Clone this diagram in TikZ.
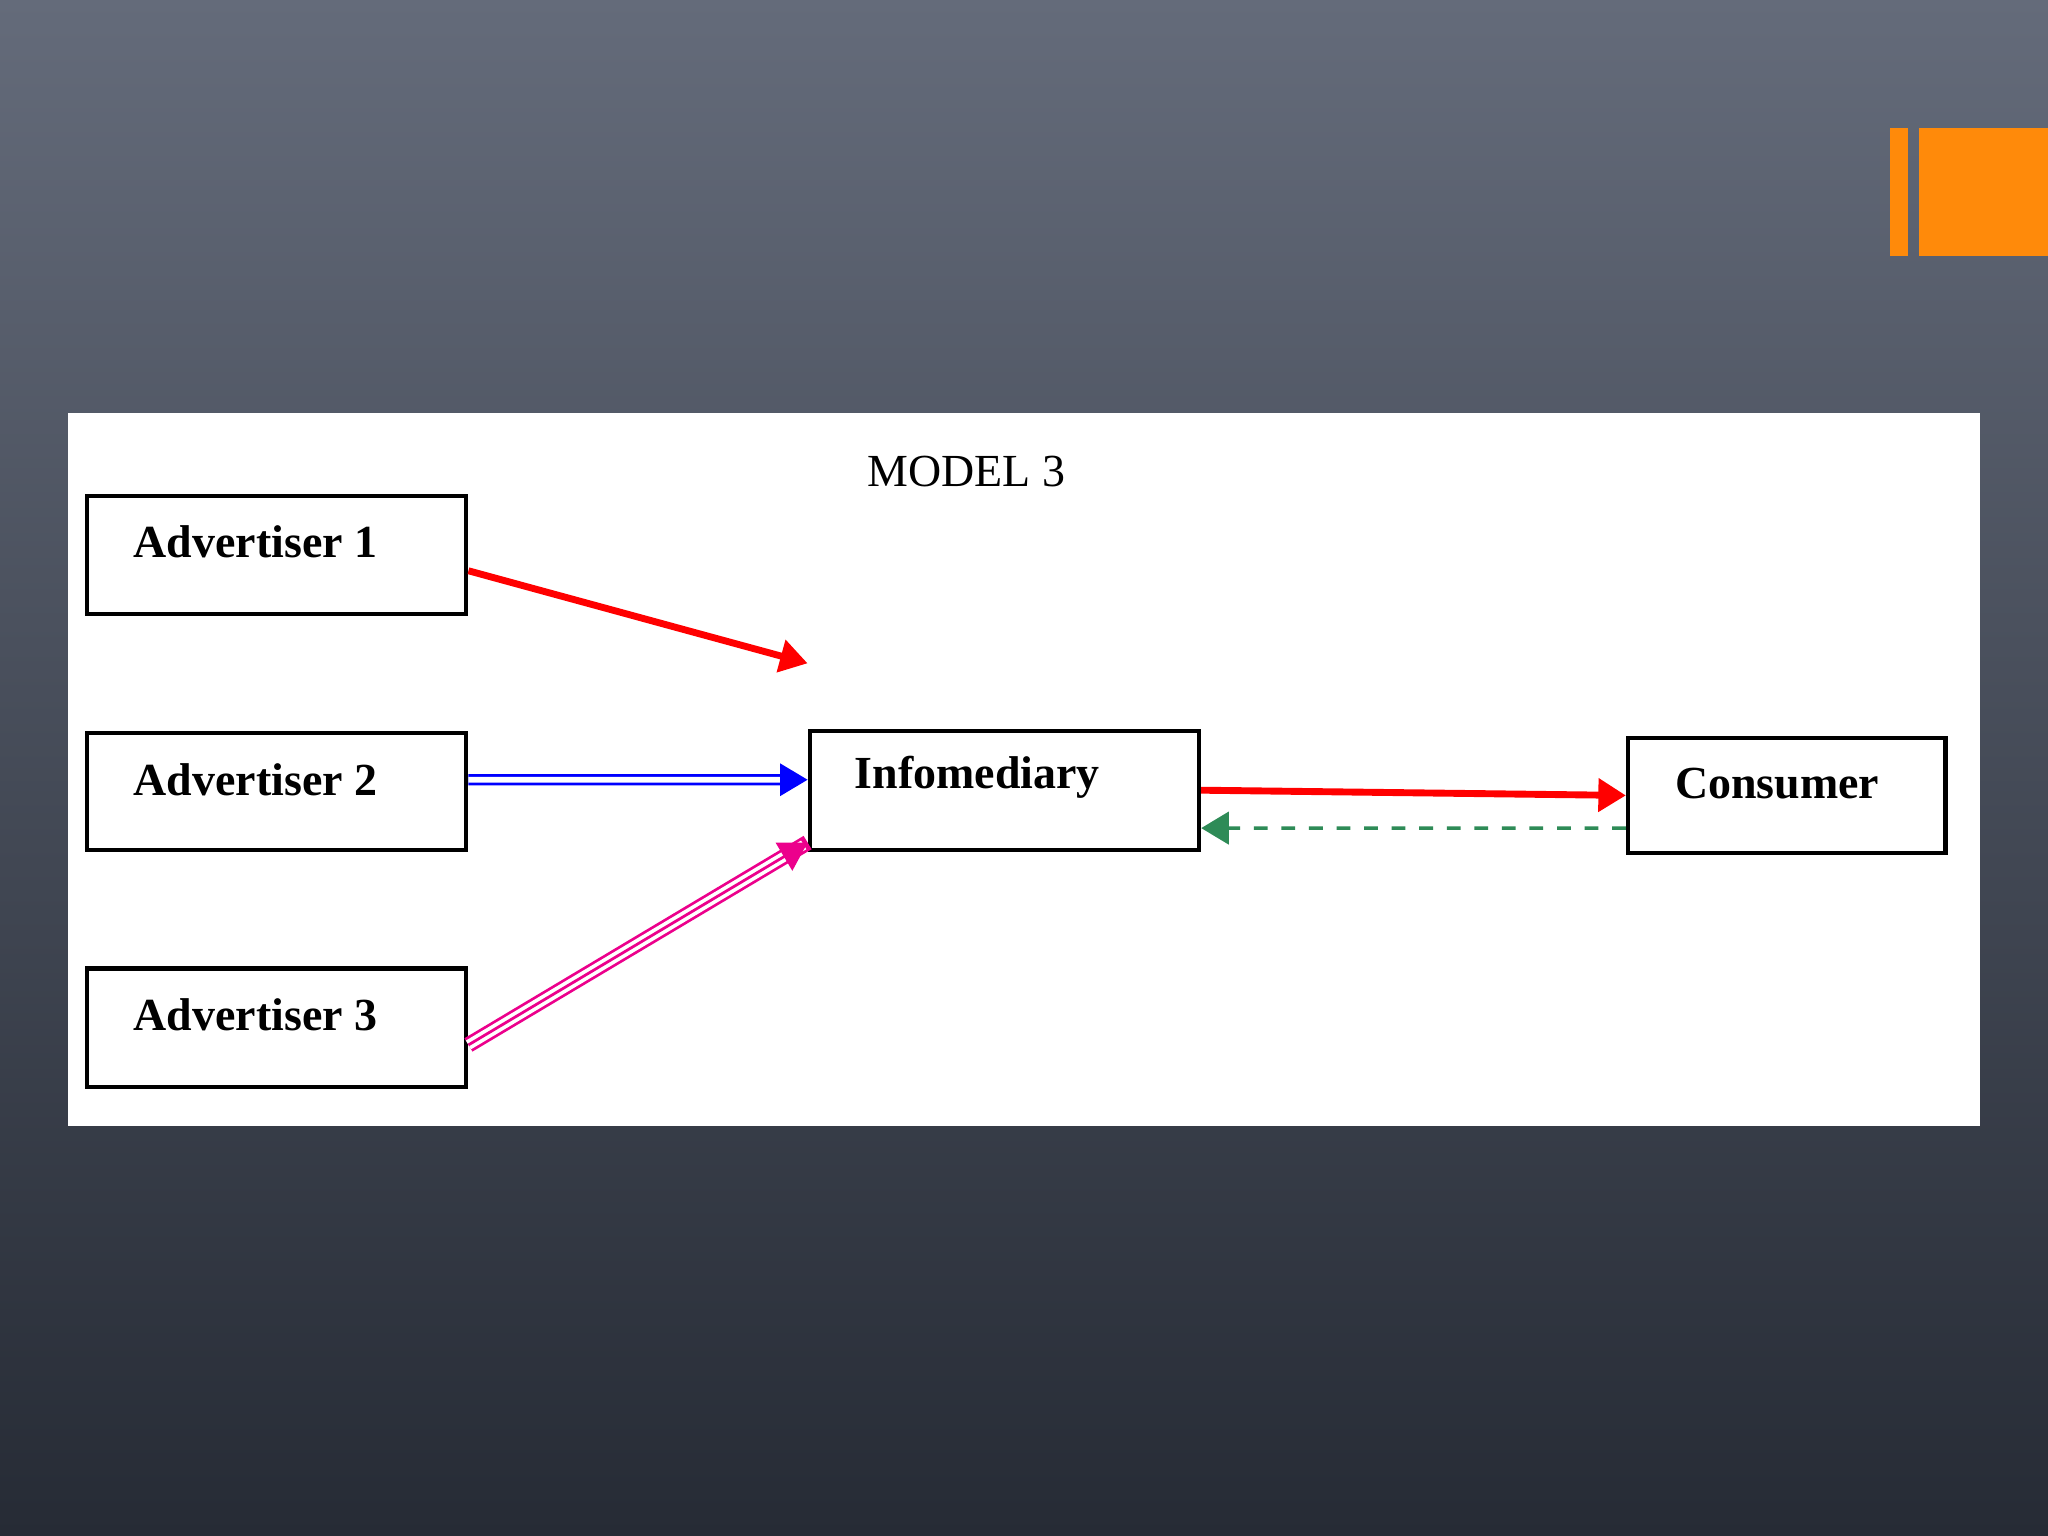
\documentclass[tikz,border=0pt]{standalone}
\usepackage{fontspec}
\setmainfont{Liberation Serif}
\usetikzlibrary{arrows.meta,positioning}
\definecolor{bgtop}{HTML}{646B7A}
\definecolor{bgbot}{HTML}{262B35}
\definecolor{bar}{HTML}{FF8A0A}
\definecolor{fbgreen}{HTML}{2E8B57}
\tikzset{
  box/.style={draw=black,line width=0.9pt,minimum width=2.9cm,minimum height=0.9cm,
    inner sep=0pt,font=\fontsize{10}{12}\selectfont\bfseries,align=left},
  tip/.style={-{Triangle[length=6pt,width=7pt]}}
}
\begin{document}
\begin{tikzpicture}[x=0.01cm,y=-0.01cm]
        %% background %%
        \shade[top color=bgtop,bottom color=bgbot] (0,0) rectangle (1568,1176);
        \useasboundingbox (0,0) rectangle (1568,1176);
        \fill[bar] (1447,98) rectangle (1461,196);
        \fill[bar] (1469,98) rectangle (1568,196);
        \fill[white] (52,316) rectangle (1516,862);

        %% nodes %%
        \node at (740,361) {\fontsize{10}{12}\selectfont MODEL 3};
        \node[box,minimum width=2.9cm,minimum height=0.9cm] (a1) at (212,425) {};
        \node[box,minimum height=0.89cm] (a2) at (212,606) {};
        \node[box,minimum height=0.91cm] (a3) at (212,787) {};
        \node[box,minimum width=2.98cm,minimum height=0.91cm] (info) at (769,605) {};
        \node[box,minimum width=2.43cm,minimum height=0.88cm] (cons) at (1368,609) {};
        \node[font=\fontsize{10}{12}\selectfont\bfseries,anchor=west] at (90,415) {Advertiser 1};
        \node[font=\fontsize{10}{12}\selectfont\bfseries,anchor=west] at (90,597) {Advertiser 2};
        \node[font=\fontsize{10}{12}\selectfont\bfseries,anchor=west] at (90,777) {Advertiser 3};
        \node[font=\fontsize{10}{12}\selectfont\bfseries,anchor=west] at (642,595) {Infomediary};
        \node[font=\fontsize{10}{12}\selectfont\bfseries,anchor=west] at (1270,600) {Consumer};

        %% connectors %%
        \draw[tip,red,line width=1.5pt] ([yshift=-0.12cm]a1.east) -- ([yshift=0.5cm]info.north west);
        \draw[tip,blue,double=white,double distance=1.2pt,line width=0.6pt] ([yshift=0.09cm]a2.east) -- ([yshift=0.08cm]info.west);
        \draw[magenta,line width=3.4pt] ([yshift=-0.13cm]a3.east) -- ([yshift=0.07cm]info.south west);
        \draw[white,line width=2.2pt,shorten >=1pt] ([yshift=-0.13cm]a3.east) -- ([yshift=0.07cm]info.south west);
        \draw[tip,magenta,line width=0.6pt] ([yshift=-0.13cm]a3.east) -- ([yshift=0.07cm]info.south west);
        \draw[tip,red,line width=1.5pt] (info.east) -- (cons.west);
        \draw[tip,fbgreen,dashed,line width=0.8pt] ([yshift=-0.25cm]cons.west) -- ([yshift=-0.29cm]info.east);
\end{tikzpicture}
\end{document}
